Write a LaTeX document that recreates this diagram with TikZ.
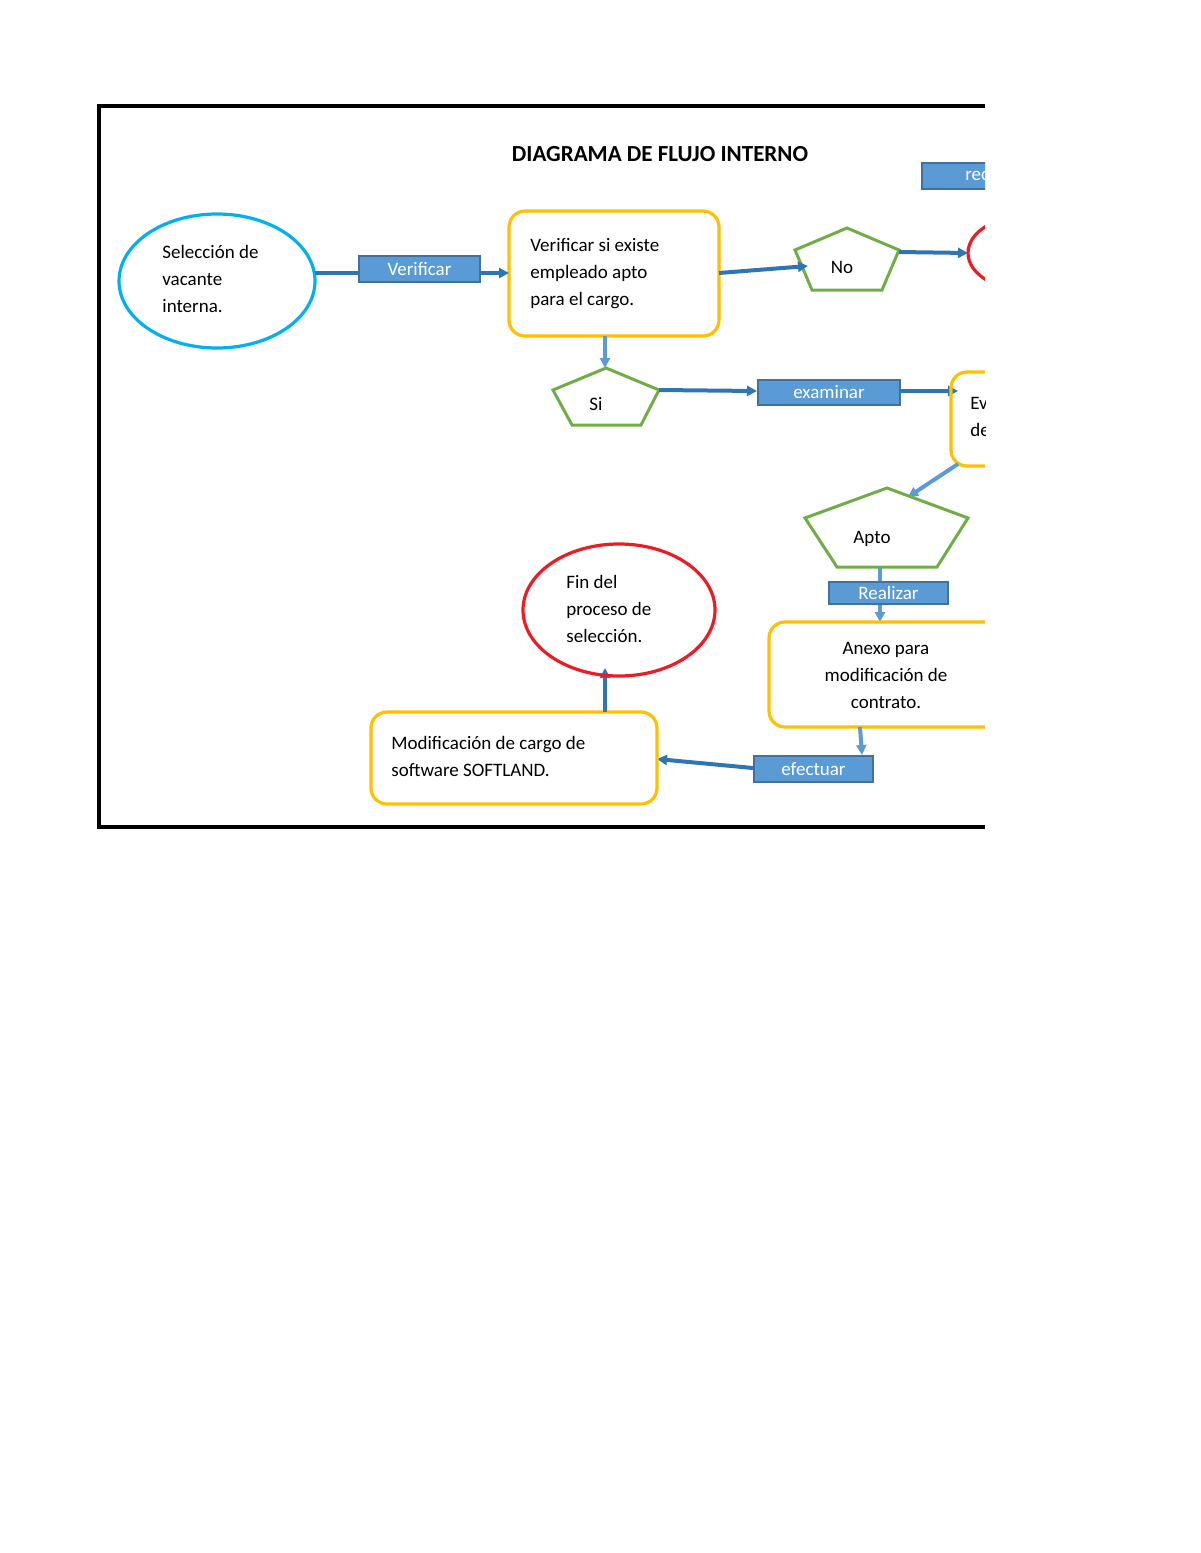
\documentclass[tikz,border=0pt]{standalone}
\usepackage{fontspec}
\setmainfont{Carlito}
\usetikzlibrary{shapes.geometric,arrows.meta}
\definecolor{cy}{RGB}{0,176,240}
\definecolor{yel}{RGB}{255,192,0}
\definecolor{grn}{RGB}{112,173,71}
\definecolor{rd}{RGB}{237,28,36}
\definecolor{lb}{RGB}{91,155,213}
\definecolor{db}{RGB}{46,117,182}
\definecolor{bb}{RGB}{65,113,156}
\tikzset{
 ybox/.style={draw=yel,line width=1.6pt,rounded corners=8pt},
 lbl/.style={draw=bb,fill=lb,line width=1pt,text=white,font=\fontsize{9.5}{11}\selectfont,inner sep=0pt,anchor=north west},
 pent/.style={draw=grn,line width=1.5pt},
 conn/.style={draw=db,line width=2pt,-{Triangle[length=5pt,width=5pt]}},
 connl/.style={draw=lb,line width=2pt,-{Triangle[length=5pt,width=5pt]}},
 txt/.style={font=\fontsize{9.5}{13.5}\selectfont,align=left,anchor=north west,inner sep=0pt},
}
\begin{document}
\begin{tikzpicture}[x=0.5pt,y=-0.5pt]
\useasboundingbox (0,0) rectangle (1200,1553);
\begin{scope}
\clip (0,0) rectangle (985,1553);
\draw[line width=2pt] (985,106) -- (99,106) -- (99,827) -- (985,827);
\node[font=\bfseries\fontsize{11.5}{13}\selectfont] (title) at (660,154) {DIAGRAMA DE FLUJO INTERNO};
% start ellipse
\draw[cy,line width=1.6pt] (217,281) ellipse [x radius=98,y radius=67];
\coordinate (e1) at (315,273);
\node[txt] (t1) at (162,245) {Selección de\\vacante\\interna.};
% verify box
\draw[ybox] (509,211) rectangle (719,336);
\coordinate (v1) at (509,273);
\node[txt] (t2) at (530,238) {Verificar si existe\\empleado apto\\para el cargo.};
\draw[conn] (e1) -- (v1);
\node[lbl,minimum width=121*0.5pt,minimum height=26*0.5pt] (lver) at (358,255) {Verificar};
% No pentagon
\draw[pent] (847,228) -- (899,250) -- (882,290) -- (812,290) -- (795,250) -- cycle;
\node[font=\fontsize{9.5}{11}\selectfont] (no) at (842,267) {No};
\coordinate (v2) at (719,273); \coordinate (n1) at (808,266);
\draw[conn] (v2) -- (n1);
\coordinate (n2) at (899,252); \coordinate (r1) at (968,253);
\draw[conn] (n2) -- (r1);
\draw[rd,line width=1.6pt] (1030,253) ellipse [x radius=62,y radius=38];
\node[lbl,minimum width=80*0.5pt,minimum height=26*0.5pt,anchor=north west] (lrec) at (921,162) {\hspace*{20pt}rece};
% Si
\coordinate (v3) at (605,336); \coordinate (s0) at (605,368);
\draw[connl] (v3) -- (s0);
\draw[pent] (606,368) -- (659,390) -- (641,425) -- (572,425) -- (553,390) -- cycle;
\node[font=\fontsize{9.5}{11}\selectfont] (si) at (596,404) {Si};
\coordinate (s1) at (659,390); \coordinate (x1) at (757,391);
\draw[conn] (s1) -- (x1);
\node[lbl,minimum width=142*0.5pt,minimum height=25*0.5pt] (lex) at (757,379) {examinar};
\coordinate (x2) at (899,391); \coordinate (ev) at (958,391);
\draw[conn] (x2) -- (ev);
\draw[ybox] (951,372) rectangle (1100,466);
\node[txt] (tev) at (970,397) {Ev\\de};
% Apto
\coordinate (ev2) at (958,464); \coordinate (a0) at (908,497);
\draw[connl] (ev2) -- (a0);
\draw[pent] (887,488) -- (968,518) -- (937,567) -- (837,567) -- (805,518) -- cycle;
\node[font=\fontsize{9.5}{11}\selectfont] (apto) at (872,539) {Apto};
\coordinate (a1) at (880,567); \coordinate (an0) at (880,622);
\draw[connl] (a1) -- (an0);
\node[lbl,minimum width=119*0.5pt,minimum height=22*0.5pt] (lre) at (828,581) {Realizar};
% Anexo
\draw[ybox] (769,622) rectangle (1005,727);
\node[font=\fontsize{9.5}{13.5}\selectfont,align=center] (tan) at (886,675) {Anexo para\\modificación de\\contrato.};
\coordinate (an1) at (860,727); \coordinate (ef0) at (862,755);
\draw[connl] (an1) -- (ef0);
\node[lbl,minimum width=119*0.5pt,minimum height=26*0.5pt] (lef) at (753,755) {efectuar};
\coordinate (ef1) at (753,768); \coordinate (m0) at (657,759);
\draw[conn] (ef1) -- (m0);
% Modificacion
\draw[ybox] (371,712) rectangle (657,804);
\node[txt] (tm) at (391,736) {Modificación de cargo de\\software SOFTLAND.};
\coordinate (m1) at (605,712); \coordinate (f0) at (605,668);
\draw[conn] (m1) -- (f0);
% Fin
\draw[rd,line width=1.6pt] (619,610) ellipse [x radius=96,y radius=66];
\node[txt] (tf) at (566,575) {Fin del\\proceso de\\selección.};
\end{scope}
\end{tikzpicture}
\end{document}
